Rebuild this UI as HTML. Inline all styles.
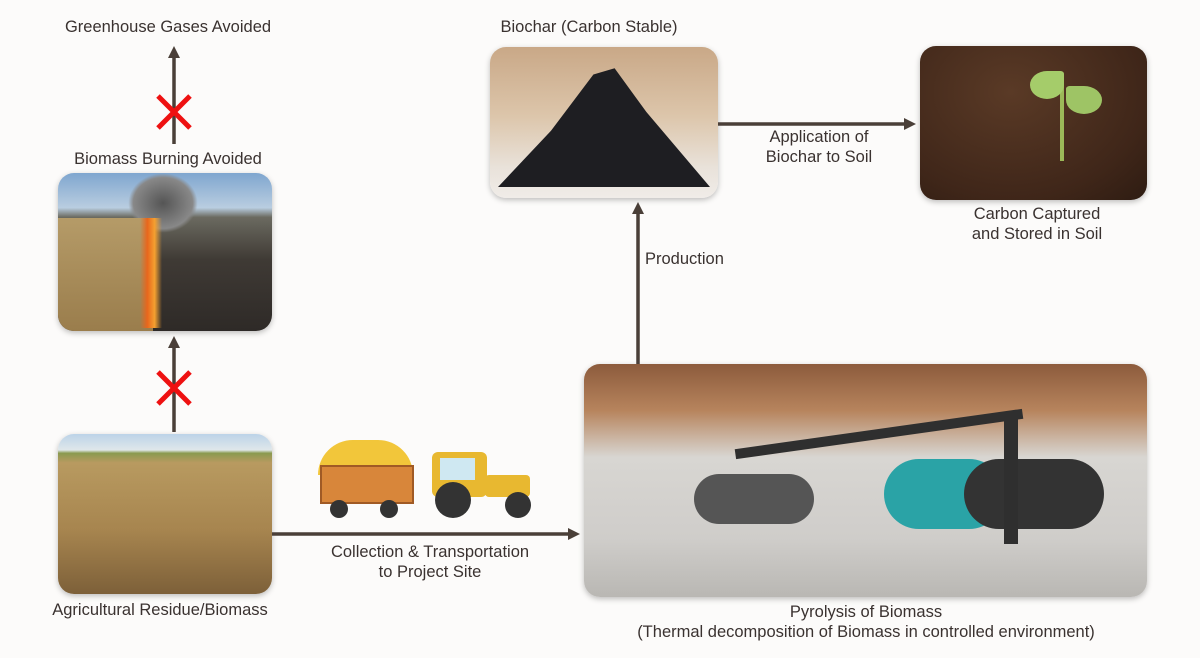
<!DOCTYPE html>
<html><head><meta charset="utf-8"><style>
body{margin:0;width:1200px;height:658px;background:#fcfbfa;position:relative;overflow:hidden;font-family:"Liberation Sans",sans-serif;color:#3a3230}
.t{position:absolute;font-size:16.5px;text-align:center;white-space:nowrap;line-height:20px}
.img{position:absolute;border-radius:16px;overflow:hidden;box-shadow:0 2px 6px rgba(0,0,0,.25)}
svg{position:absolute;left:0;top:0}
</style></head><body>
<div class="img" style="left:58px;top:173px;width:214px;height:158px;background:linear-gradient(180deg,#7fa6cf 0%,#b9cde0 22%,#6b6a60 28%,#3f3a35 55%,#2e2a27 100%)">
 <div style="position:absolute;left:70px;top:0px;width:70px;height:60px;border-radius:50%;background:radial-gradient(#555,#888 60%,transparent 70%)"></div>
 <div style="position:absolute;left:0;top:45px;width:95px;height:113px;background:linear-gradient(180deg,#b59b68,#9a7d4c)"></div>
 <div style="position:absolute;left:82px;top:45px;width:22px;height:110px;background:linear-gradient(90deg,transparent,#e8661c,#f4a030,transparent)"></div>
</div>
<div class="img" style="left:58px;top:434px;width:214px;height:160px;background:linear-gradient(180deg,#bcd3e8 0%,#dfe7ea 10%,#8a9a50 12%,#b89a60 18%,#a7854f 60%,#7d6039 100%)"></div>
<div class="img" style="left:490px;top:47px;width:228px;height:151px;background:linear-gradient(180deg,#c9a887 0%,#dcc5aa 45%,#e9e2da 80%,#f0ece8 100%)">
 <div style="position:absolute;left:8px;top:15px;width:212px;height:125px;background:#1e1e22;clip-path:polygon(0 100%,25% 55%,45% 10%,55% 5%,70% 40%,100% 100%)"></div>
</div>
<div class="img" style="left:920px;top:46px;width:227px;height:154px;background:radial-gradient(ellipse at 40% 30%,#5a3a26,#3f2619 70%,#2e1c12)">
 <div style="position:absolute;left:140px;top:30px;width:4px;height:85px;background:#9bb858"></div>
 <div style="position:absolute;left:110px;top:25px;width:34px;height:28px;border-radius:50% 10% 50% 50%;background:#a5cc6a"></div>
 <div style="position:absolute;left:146px;top:40px;width:36px;height:28px;border-radius:10% 50% 50% 50%;background:#9ec465"></div>
</div>
<div class="img" style="left:584px;top:364px;width:563px;height:233px;background:linear-gradient(180deg,#8c5b3c 0%,#b7845d 20%,#d8d6d2 40%,#cfcdca 75%,#b9b7b3 100%)">
 <div style="position:absolute;left:300px;top:95px;width:120px;height:70px;border-radius:35px;background:#2aa3a6"></div>
 <div style="position:absolute;left:380px;top:95px;width:140px;height:70px;border-radius:35px;background:#333"></div>
 <div style="position:absolute;left:110px;top:110px;width:120px;height:50px;border-radius:25px;background:#555"></div>
 <div style="position:absolute;left:150px;top:65px;width:290px;height:10px;background:#2f2f2f;transform:rotate(-8deg)"></div>
 <div style="position:absolute;left:420px;top:50px;width:14px;height:130px;background:#2f2f2f"></div>
</div>
<div style="position:absolute;left:318px;top:440px;width:95px;height:35px;border-radius:40px 40px 0 0;background:#f2c63a"></div>
<div style="position:absolute;left:320px;top:465px;width:90px;height:35px;background:#d8863a;border:2px solid #a05a25"></div>
<div style="position:absolute;left:432px;top:452px;width:55px;height:45px;background:#e8b830;border-radius:6px"></div>
<div style="position:absolute;left:440px;top:458px;width:35px;height:22px;background:#cfe8f2"></div>
<div style="position:absolute;left:485px;top:475px;width:45px;height:22px;background:#e8b830;border-radius:4px"></div>
<div style="position:absolute;left:435px;top:482px;width:36px;height:36px;border-radius:50%;background:#333"></div>
<div style="position:absolute;left:505px;top:492px;width:26px;height:26px;border-radius:50%;background:#333"></div>
<div style="position:absolute;left:330px;top:500px;width:18px;height:18px;border-radius:50%;background:#333"></div>
<div style="position:absolute;left:380px;top:500px;width:18px;height:18px;border-radius:50%;background:#333"></div>

<svg width="1200" height="658">
<defs><marker id="a" markerWidth="12" markerHeight="12" refX="8" refY="6" orient="auto" markerUnits="userSpaceOnUse"><path d="M0,0 L12,6 L0,12 z" fill="#4a3f38"/></marker></defs>
<g stroke="#4a3f38" stroke-width="3.5" fill="none">
<line x1="174" y1="144" x2="174" y2="50" marker-end="url(#a)"/>
<line x1="174" y1="432" x2="174" y2="340" marker-end="url(#a)"/>
<line x1="272" y1="534" x2="576" y2="534" marker-end="url(#a)"/>
<line x1="638" y1="364" x2="638" y2="206" marker-end="url(#a)"/>
<line x1="718" y1="124" x2="912" y2="124" marker-end="url(#a)"/>
</g>
<g stroke="#ee1111" stroke-width="5">
<line x1="158" y1="96" x2="190" y2="128"/><line x1="190" y1="96" x2="158" y2="128"/>
<line x1="158" y1="372" x2="190" y2="404"/><line x1="190" y1="372" x2="158" y2="404"/>
</g>
</svg>
<div class="t" style="left:58px;top:17px;width:220px">Greenhouse Gases Avoided</div>
<div class="t" style="left:58px;top:149px;width:220px">Biomass Burning Avoided</div>
<div class="t" style="left:30px;top:600px;width:260px">Agricultural Residue/Biomass</div>
<div class="t" style="left:310px;top:542px;width:240px">Collection &amp; Transportation<br>to Project Site</div>
<div class="t" style="left:560px;top:602px;width:612px">Pyrolysis of Biomass<br>(Thermal decomposition of Biomass in controlled environment)</div>
<div class="t" style="left:645px;top:249px">Production</div>
<div class="t" style="left:479px;top:17px;width:220px">Biochar (Carbon Stable)</div>
<div class="t" style="left:739px;top:127px;width:160px">Application of<br>Biochar to Soil</div>
<div class="t" style="left:927px;top:204px;width:220px">Carbon Captured<br>and Stored in Soil</div>
</body></html>
